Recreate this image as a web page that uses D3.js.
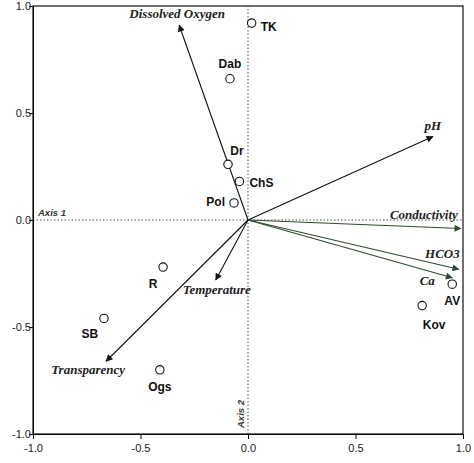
<!DOCTYPE html>
<html><head><meta charset="utf-8">
<script src="https://cdn.jsdelivr.net/npm/d3@7"></script>
<style>body{margin:0;background:#fff}</style>
</head><body><div id="chart"></div>
<script>
// sites (ordination scores)
const siteNames = ['TK', 'Dab', 'Dr', 'ChS', 'Pol', 'R', 'SB', 'Ogs', 'AV', 'Kov']
const siteX = [0.017, -0.084, -0.093, -0.04, -0.065, -0.395, -0.67, -0.41, 0.95, 0.81]
const siteY = [0.92, 0.66, 0.26, 0.18, 0.08, -0.22, -0.46, -0.70, -0.30, -0.40]
// environmental vectors
const envNames = ['Dissolved Oxygen', 'pH', 'Conductivity', 'HCO3', 'Ca', 'Temperature', 'Transparency']
const envX = [-0.32, 0.86, 0.99, 0.98, 0.95, -0.15, -0.66]
const envY = [0.91, 0.39, -0.04, -0.23, -0.27, -0.28, -0.66]
const ticks = [-1.0, -0.5, 0.0, 0.5, 1.0]

// label placement (px offsets from the point)
const siteLab = {
    TK: [9, 4, 'start'], Dab: [0, -15, 'middle'], Dr: [9, -13, 'middle'], ChS: [10, 2, 'start'],
    Pol: [-9, -1, 'end'], R: [-10, 17, 'middle'], SB: [-14, 16, 'middle'], Ogs: [0, 17, 'middle'],
    AV: [0, 17, 'middle'], Kov: [12, 19, 'middle']
}
const envLab = {
    'Dissolved Oxygen': [-2, -7, 'middle'], pH: [0, -7, 'middle'],
    Conductivity: [-3, -10, 'end'], HCO3: [1, -11, 'end'],
    Ca: [-25, 7, 'middle'], Temperature: [1, 14, 'middle'],
    Transparency: [-18, 13, 'middle']
}
const greenish = ['Conductivity', 'HCO3', 'Ca']

const width = 474, height = 463
const x = d3.scaleLinear().domain([-1, 1]).range([33, 463])
const y = d3.scaleLinear().domain([-1, 1]).range([434, 6])
const fmt = d => d.toFixed(1)

const svg = d3.select('#chart').append('svg').attr('width', width).attr('height', height)

const defs = svg.append('defs')
function marker(id, col) {
    defs.append('marker').attr('id', id).attr('viewBox', '0 0 10 10')
        .attr('refX', 9).attr('refY', 5).attr('markerWidth', 9).attr('markerHeight', 7)
        .attr('markerUnits', 'userSpaceOnUse').attr('orient', 'auto')
        .append('path').attr('d', 'M0,0 L10,5 L0,10 Z').attr('fill', col)
}
marker('ab', '#111')
marker('ag', '#2f4a2f')

// dotted axes through origin
svg.append('line').attr('x1', x(-1)).attr('x2', x(1)).attr('y1', y(0)).attr('y2', y(0))
    .attr('stroke', '#222').attr('stroke-dasharray', '1.5,2').attr('stroke-width', 0.8)
svg.append('line').attr('x1', x(0)).attr('x2', x(0)).attr('y1', y(-1)).attr('y2', y(1))
    .attr('stroke', '#222').attr('stroke-dasharray', '1.5,2').attr('stroke-width', 0.8)

svg.append('g').attr('transform', `translate(0,${y(-1)})`)
    .call(d3.axisBottom(x).tickValues(ticks).tickFormat(fmt).tickSize(5).tickSizeOuter(0))
    .call(g => g.selectAll('text').attr('font-family', 'Arial, Liberation Sans').attr('font-size', 11).attr('fill', '#222').attr('dy', '0.9em'))
svg.append('g').attr('transform', `translate(${x(-1)},0)`)
    .call(d3.axisLeft(y).tickValues(ticks).tickFormat(fmt).tickSize(4).tickSizeOuter(0))
    .call(g => g.selectAll('text').attr('font-family', 'Arial, Liberation Sans').attr('font-size', 11).attr('fill', '#222').attr('x', -2))
svg.append('rect').attr('x', x(-1)).attr('y', y(1)).attr('width', x(1) - x(-1)).attr('height', y(-1) - y(1))
    .attr('fill', 'none').attr('stroke', '#111').attr('stroke-width', 1.2)

svg.append('text').attr('x', x(-1) + 5).attr('y', y(0) - 4).text('Axis 1')
    .attr('font-family', 'Arial, Liberation Sans').attr('font-style', 'italic').attr('font-weight', 'bold').attr('font-size', 9.5).attr('fill', '#333')
svg.append('text').attr('transform', `translate(${x(0) - 4},${y(-1) - 6}) rotate(-90)`).text('Axis 2')
    .attr('font-family', 'Arial, Liberation Sans').attr('font-style', 'italic').attr('font-weight', 'bold').attr('font-size', 9.5).attr('fill', '#333')

// vectors
const env = envNames.map((n, i) => ({ n, x: envX[i], y: envY[i] }))
svg.selectAll('.vec').data(env).join('line')
    .attr('x1', x(0)).attr('y1', y(0)).attr('x2', d => x(d.x)).attr('y2', d => y(d.y))
    .attr('stroke', d => greenish.includes(d.n) ? '#2f4a2f' : '#111').attr('stroke-width', 1.1)
    .attr('marker-end', d => greenish.includes(d.n) ? 'url(#ag)' : 'url(#ab)')
svg.selectAll('.vl').data(env).join('text')
    .attr('x', d => x(d.x) + envLab[d.n][0]).attr('y', d => y(d.y) + envLab[d.n][1])
    .attr('text-anchor', d => envLab[d.n][2]).text(d => d.n)
    .attr('font-family', 'Liberation Serif, Times New Roman').attr('font-style', 'italic').attr('font-weight', 'bold')
    .attr('font-size', 13).attr('fill', '#222')

// sites
const sites = siteNames.map((n, i) => ({ n, x: siteX[i], y: siteY[i] }))
svg.selectAll('.s').data(sites).join('circle')
    .attr('cx', d => x(d.x)).attr('cy', d => y(d.y)).attr('r', 4.2)
    .attr('fill', '#fff').attr('stroke', '#111').attr('stroke-width', 1.1)
svg.selectAll('.sl').data(sites).join('text')
    .attr('x', d => x(d.x) + siteLab[d.n][0]).attr('y', d => y(d.y) + siteLab[d.n][1] + 4)
    .attr('text-anchor', d => siteLab[d.n][2]).text(d => d.n)
    .attr('font-family', 'Arial, Liberation Sans').attr('font-weight', 'bold').attr('font-size', 12).attr('fill', '#111')
</script>
</body></html>
